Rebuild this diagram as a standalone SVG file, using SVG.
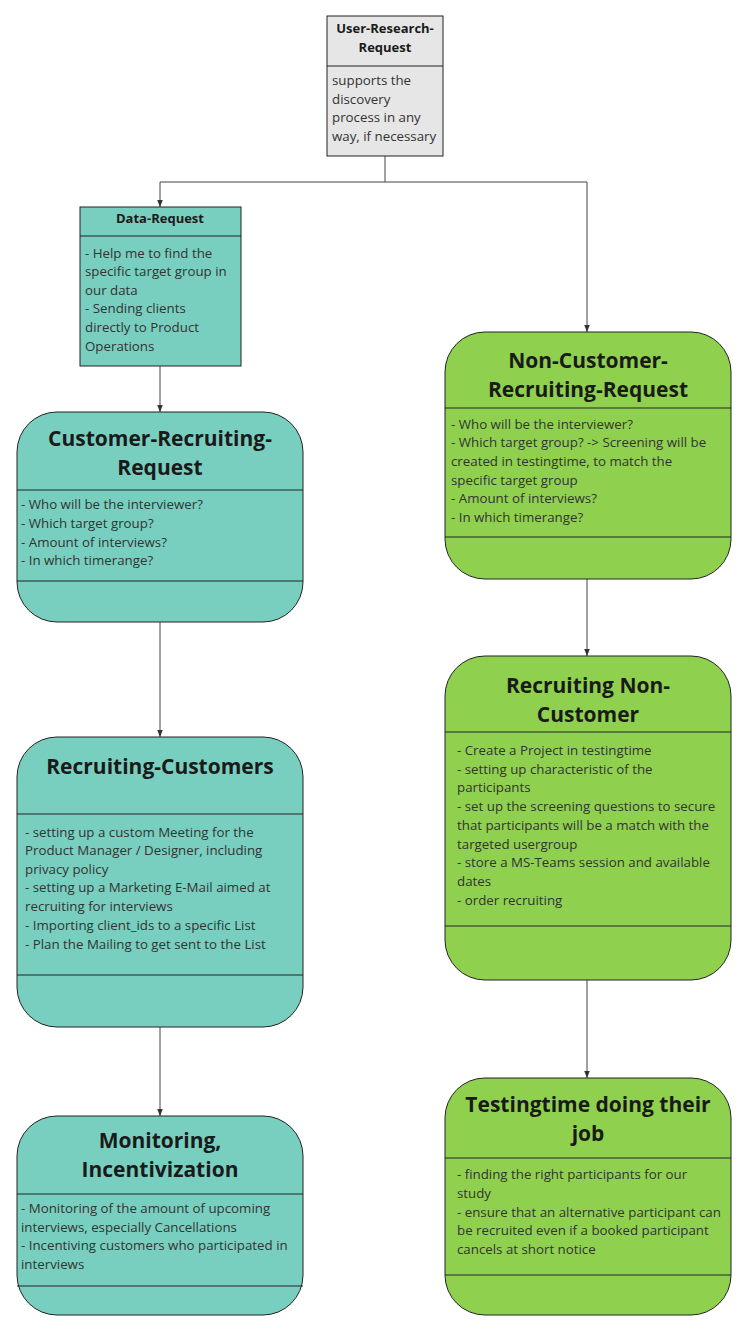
<svg xmlns="http://www.w3.org/2000/svg" width="748" height="1335" viewBox="0 0 748 1335">
<defs>
<marker id="arr" viewBox="0 0 10 10" refX="10" refY="5" markerWidth="7" markerHeight="7" orient="auto"><path d="M0,1 L10,5 L0,9 z" fill="#333"/></marker>
<style>
.box{stroke:#222;stroke-width:1}
.teal{fill:#79cfbf}
.green{fill:#8fd14f}
.grey{fill:#e6e6e6}
.div{stroke:#222;stroke-width:1}
.t{font-family:"Open Sans","Liberation Sans",sans-serif;font-weight:bold;fill:#1a1a1a;text-anchor:middle}
.b{font-family:"Open Sans","Liberation Sans",sans-serif;font-size:13.3px;fill:#333}
.c{fill:none;stroke:#444;stroke-width:1}
</style>
</defs>
<rect width="748" height="1335" fill="#fff"/>
<g id="connectors">
<path class="c" d="M385,156 V182 H160 V207" marker-end="url(#arr)"/>
<path class="c" d="M385,182 H587 V332" marker-end="url(#arr)"/>
<path class="c" d="M160,366 V412" marker-end="url(#arr)"/>
<path class="c" d="M160,622 V737" marker-end="url(#arr)"/>
<path class="c" d="M160,1027 V1116" marker-end="url(#arr)"/>
<path class="c" d="M587,579 V656" marker-end="url(#arr)"/>
<path class="c" d="M587,980 V1078" marker-end="url(#arr)"/>
</g>
<g id="user-research-request">
<rect class="box grey" x="327" y="16" width="116" height="140"/>
<line class="div" x1="327" y1="66" x2="443" y2="66"/>
<text class="t" font-size="13" x="385" y="33">User-Research-</text>
<text class="t" font-size="13" x="385" y="52">Request</text>
<text class="b" x="332" y="85">supports the</text>
<text class="b" x="332" y="104">discovery</text>
<text class="b" x="332" y="122">process in any</text>
<text class="b" x="332" y="141">way, if necessary</text>
</g>
<g id="data-request">
<rect class="box teal" x="80" y="207" width="161" height="159"/>
<line class="div" x1="80" y1="236" x2="241" y2="236"/>
<text class="t" font-size="13" x="160" y="223">Data-Request</text>
<text class="b" x="85" y="258">- Help me to find the</text>
<text class="b" x="85" y="276">specific target group in</text>
<text class="b" x="85" y="295">our data</text>
<text class="b" x="85" y="313">- Sending clients</text>
<text class="b" x="85" y="332">directly to Product</text>
<text class="b" x="85" y="351">Operations</text>
</g>
<g id="customer-recruiting-request">
<rect class="box teal" x="17" y="412" width="286" height="210" rx="40"/>
<line class="div" x1="17" y1="490" x2="303" y2="490"/>
<line class="div" x1="17" y1="581" x2="303" y2="581"/>
<text class="t" font-size="21" x="160" y="446">Customer-Recruiting-</text>
<text class="t" font-size="21" x="160" y="475">Request</text>
<text class="b" x="21" y="509">- Who will be the interviewer?</text>
<text class="b" x="21" y="528">- Which target group?</text>
<text class="b" x="21" y="547">- Amount of interviews?</text>
<text class="b" x="21" y="565">- In which timerange?</text>
</g>
<g id="recruiting-customers">
<rect class="box teal" x="17" y="737" width="286" height="290" rx="40"/>
<line class="div" x1="17" y1="814" x2="303" y2="814"/>
<line class="div" x1="17" y1="975" x2="303" y2="975"/>
<text class="t" font-size="21" x="160" y="774">Recruiting-Customers</text>
<text class="b" x="25" y="837">- setting up a custom Meeting for the</text>
<text class="b" x="25" y="855">Product Manager / Designer, including</text>
<text class="b" x="25" y="874">privacy policy</text>
<text class="b" x="25" y="892">- setting up a Marketing E-Mail aimed at</text>
<text class="b" x="25" y="911">recruiting for interviews</text>
<text class="b" x="25" y="930">- Importing client_ids to a specific List</text>
<text class="b" x="25" y="949">- Plan the Mailing to get sent to the List</text>
</g>
<g id="monitoring">
<rect class="box teal" x="17" y="1116" width="286" height="199" rx="40"/>
<line class="div" x1="17" y1="1194" x2="303" y2="1194"/>
<line class="div" x1="17" y1="1286" x2="303" y2="1286"/>
<text class="t" font-size="21" x="160" y="1148">Monitoring,</text>
<text class="t" font-size="21" x="160" y="1177">Incentivization</text>
<text class="b" x="21" y="1213">- Monitoring of the amount of upcoming</text>
<text class="b" x="21" y="1232">interviews, especially Cancellations</text>
<text class="b" x="21" y="1250">- Incentiving customers who participated in</text>
<text class="b" x="21" y="1269">interviews</text>
</g>
<g id="non-customer-recruiting-request">
<rect class="box green" x="445" y="332" width="286" height="247" rx="40"/>
<line class="div" x1="445" y1="408" x2="731" y2="408"/>
<line class="div" x1="445" y1="537" x2="731" y2="537"/>
<text class="t" font-size="21" x="588" y="368">Non-Customer-</text>
<text class="t" font-size="21" x="588" y="397">Recruiting-Request</text>
<text class="b" x="451" y="429">- Who will be the interviewer?</text>
<text class="b" x="451" y="447">- Which target group? -&gt; Screening will be</text>
<text class="b" x="451" y="466">created in testingtime, to match the</text>
<text class="b" x="451" y="485">specific target group</text>
<text class="b" x="451" y="503">- Amount of interviews?</text>
<text class="b" x="451" y="522">- In which timerange?</text>
</g>
<g id="recruiting-non-customer">
<rect class="box green" x="445" y="656" width="286" height="324" rx="40"/>
<line class="div" x1="445" y1="732" x2="731" y2="732"/>
<line class="div" x1="445" y1="926" x2="731" y2="926"/>
<text class="t" font-size="21" x="588" y="693">Recruiting Non-</text>
<text class="t" font-size="21" x="588" y="722">Customer</text>
<text class="b" x="457" y="755">- Create a Project in testingtime</text>
<text class="b" x="457" y="774">- setting up characteristic of the</text>
<text class="b" x="457" y="792">participants</text>
<text class="b" x="457" y="811">- set up the screening questions to secure</text>
<text class="b" x="457" y="830">that participants will be a match with the</text>
<text class="b" x="457" y="849">targeted usergroup</text>
<text class="b" x="457" y="867">- store a MS-Teams session and available</text>
<text class="b" x="457" y="886">dates</text>
<text class="b" x="457" y="905">- order recruiting</text>
</g>
<g id="testingtime">
<rect class="box green" x="445" y="1078" width="286" height="237" rx="40"/>
<line class="div" x1="445" y1="1158" x2="731" y2="1158"/>
<line class="div" x1="445" y1="1275" x2="731" y2="1275"/>
<text class="t" font-size="21" x="588" y="1112">Testingtime doing their</text>
<text class="t" font-size="21" x="588" y="1141">job</text>
<text class="b" x="457" y="1179">- finding the right participants for our</text>
<text class="b" x="457" y="1198">study</text>
<text class="b" x="457" y="1217">- ensure that an alternative participant can</text>
<text class="b" x="457" y="1235">be recruited even if a booked participant</text>
<text class="b" x="457" y="1254">cancels at short notice</text>
</g>
</svg>
